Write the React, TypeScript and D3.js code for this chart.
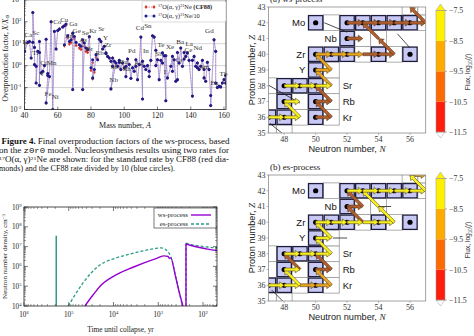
import React from "react";
import * as d3 from "d3";

const SERIF = "'Liberation Serif', 'DejaVu Serif', serif";
const SANS = "'Liberation Sans', 'DejaVu Sans', sans-serif";

// ================= Panel: overproduction factors =================
const massNumbers = [
  40, 42, 43, 44, 45, 45, 46, 46, 47, 47,
  48, 49, 49, 49, 50, 51, 52, 53, 54, 54,
  53, 55, 56, 57, 58, 59, 60, 61, 63, 64,
  65, 64, 66, 67, 68, 69, 69, 70, 71, 73,
  74, 75, 75, 76, 77, 78, 79, 80, 81, 81,
  82, 83, 84, 85, 86, 87, 88, 89, 89, 90,
  91, 92, 93, 93, 94, 92, 95, 96, 97, 97,
  98, 99, 100, 101, 101, 102, 103, 104, 105, 106,
  107, 107, 108, 109, 110, 111, 111, 112, 113, 114,
  115, 115, 116, 117, 118, 119, 119, 120, 121, 122,
  123, 123, 124, 125, 125, 126, 128, 129, 129, 130,
  131, 132, 132, 133, 134, 135, 136, 136, 137, 138,
  139, 141, 141, 142, 143, 144, 144, 145, 146, 147,
  148, 148, 149, 150, 151, 152, 152, 154, 155, 155,
  156, 157, 158, 159, 160, 161, 161,
];
const blueLog10 = [
  0.65, 1.06, 1.1, 0.35, 1.06, 2.42, 0.83, 0.05, -0.03, -0.79,
  0.65, 0.6, -0.9, 1.1, -0.33, -0.26, 0.0, 1.2, -0.36, -0.45,
  -1.7, -0.5, 2.0, -2.0, 1.56, 0.76, 1.6, 1.67, 1.76, 1.82,
  1.9, 0.95, 1.36, 1.1, 1.18, 1.48, -1.09, 1.33, 1.06, 0.95,
  0.88, 1.18, -1.09, 1.03, 0.8, 0.73, 1.33, -0.1, 0.27, -0.56,
  -0.18, 0.5, 0.27, 1.2, 1.1, 0.76, 0.88, 0.58, 0.55, 0.42,
  0.35, 0.2, -0.03, 0.35, 0.2, -1.06, 0.12, -0.03, 0.24, 0.15,
  -0.18, 0.12, -0.1, -0.03, -0.5, 0.3, 0.05, -0.58, -0.1, -0.26,
  0.27, -0.03, -0.64, 0.05, 1.3, -1.52, 0.2, -0.03, -0.18, 0.0,
  -0.26, -0.5, 0.24, 1.36, 1.3, 0.7, 0.0, 0.27, -0.64, 0.24,
  0.12, 0.58, 0.45, -1.6, 0.45, -0.56, -0.03, 0.42, -0.26, 0.27,
  -0.71, -0.64, 0.6, 0.12, 0.8, -0.03, 0.3, 0.6, 0.42, 0.58,
  0.24, -1.39, 0.24, 0.42, -0.03, -0.1, 0.12, -0.18, -0.03, 0.24,
  -0.18, -0.56, -0.71, 0.15, -0.18, -1.36, -1.82, 1.18, 0.65, -0.79,
  -1.0, -0.94, -0.97, -0.79, -0.64, -0.45, -0.79,
];
const redLog10 = [
  0.65, 1.06, 1.1, 0.35, 1.06, 2.42, 0.83, 0.05, -0.03, -0.79,
  0.65, 0.6, -0.9, 1.1, -0.33, -0.26, 0.0, 1.2, -0.36, -0.45,
  -1.7, -0.5, 2.0, -2.0, 1.56, 0.76, 1.6, 1.67, 1.76, 1.82,
  1.85, 0.9, 1.28, 0.98, 1.05, 1.4, -1.09, 1.22, 0.92, 0.8,
  0.74, 1.08, -1.09, 0.88, 0.64, 0.6, 1.28, -0.22, 0.14, -0.6,
  -0.3, 0.38, 0.27, 1.2, 1.1, 0.76, 0.88, 0.58, 0.55, 0.42,
  0.35, 0.2, -0.03, 0.35, 0.2, -1.06, 0.12, -0.03, 0.24, 0.15,
  -0.18, 0.12, -0.1, -0.03, -0.5, 0.3, 0.05, -0.58, -0.1, -0.26,
  0.27, -0.03, -0.64, 0.05, 1.3, -1.52, 0.2, -0.03, -0.18, 0.0,
  -0.26, -0.5, 0.24, 1.36, 1.3, 0.7, 0.0, 0.27, -0.64, 0.24,
  0.12, 0.58, 0.45, -1.6, 0.45, -0.56, -0.03, 0.42, -0.26, 0.27,
  -0.71, -0.64, 0.6, 0.12, 0.8, -0.03, 0.3, 0.6, 0.42, 0.58,
  0.24, -1.39, 0.24, 0.42, -0.03, -0.1, 0.12, -0.18, -0.03, 0.24,
  -0.18, -0.56, -0.71, 0.15, -0.18, -1.36, -1.82, 1.18, 0.65, -0.79,
  -1.0, -0.94, -0.97, -0.79, -0.64, -0.45, -0.79,
];
const elementNames = ["K", "Ca", "Sc", "Ti", "V", "Cr", "Mn", "Fe", "Ni", "Co", "Cu", "Zn", "Ga", "Ge", "As", "Se", "Br", "Kr", "Rb", "Sr", "Y", "Zr", "Nb", "Mo", "Ru", "Rh", "Pd", "Ag", "Cd", "In", "Sn", "Sb", "Te", "I", "Xe", "Cs", "Ba", "La", "Ce", "Nd", "Sm", "Eu", "Gd", "Tb"];
const elementA = [40.3, 42.4, 46.8, 46.4, 50.6, 51.6, 56.3, 54.2, 58.5, 59.7, 63.9, 67, 69.4, 71.4, 75.3, 76.6, 79.1, 81.2, 85.2, 86.2, 88.8, 90.2, 93.6, 94.8, 99.7, 101.5, 104.5, 108.8, 109.4, 113, 114.2, 120.9, 122.1, 124.5, 127.6, 133, 133.6, 139.1, 138.6, 144.2, 148.2, 154.2, 151.2, 159.7];
const elementLog10 = [1.08, 1.42, 1.52, 0.62, -0.34, 0.12, 0.12, -1.25, -1.43, 2.03, 2.08, 1.39, 1.9, 1.62, 1.18, 1.49, 0.76, 1.58, 0.62, 1.67, 1.26, 0.94, -0.61, -0.06, 0.21, -0.11, 0.71, 0.12, 1.76, 0.71, 1.85, 0.57, 0.94, -0.29, 0.89, 0.26, 1.12, 1.0, 0.72, 0.82, -0.06, -0.79, 1.58, -0.34];
const overprodXTicks = [40, 60, 80, 100, 120, 140, 160];
const overprodYExps = [-2, -1, 0, 1, 2, 3];
const overprodGridExps = [-1, 0, 1];

// ================= Panel: neutron density =================
const wsRiseLogT = [4.64, 4.45, 4.3, 4.0, 3.55, 3.02, 2.87, 2.78, 2.75, 2.72, 2.62, 2.52, 2.45, 2.4];
const wsRiseLogN = [4.0, 4.58, 5.0, 5.5, 5.97, 6.42, 6.53, 6.5, 6.4, 6.43, 5.55, 4.6, 4.0, 3.5];
const wsDecayLogT = [2.38, 2.3, 2.2, 2.05, 1.9, 1.75, 1.66];
const wsDecayLogN = [7.14, 7.08, 7.02, 6.94, 6.87, 6.82, 6.79];
const esRiseLogT = [5.08, 4.98, 4.85, 4.68, 4.5, 4.3, 4.0, 3.55, 3.02, 2.94, 2.85, 2.79, 2.72, 2.62, 2.52, 2.46, 2.4];
const esRiseLogN = [3.8, 4.12, 4.6, 5.17, 5.67, 6.08, 6.38, 6.67, 6.92, 6.94, 6.88, 6.75, 6.5, 5.6, 4.6, 4.0, 3.5];
const esDecayLogT = [2.38, 2.3, 2.2, 2.05, 1.9, 1.75, 1.66];
const esDecayLogN = [7.18, 7.12, 7.07, 7.02, 6.98, 6.95, 6.94];
const spikeLogT = 5.28;
const spikeLogN = 7.55;
const timeTickExps = [6, 5, 4, 3, 2];
const densityTickExps = [4, 5, 6, 7, 8, 9];

// ================= Panels: nuclide flow charts =================
const stableN = [47, 48, 50, 48, 50, 48, 49, 50, 50, 50, 51, 52, 54, 56, 52, 50, 52, 53, 54, 55, 56];
const stableZ = [36, 36, 36, 37, 37, 38, 38, 38, 39, 40, 40, 40, 40, 40, 41, 42, 42, 42, 42, 42, 42];
const gridN = [49, 51, 47, 49, 51, 47, 51, 51, 53, 55, 53, 54, 51, 57, 56, 57, 47, 48];
const gridZ = [36, 36, 37, 37, 37, 38, 38, 39, 40, 40, 41, 41, 42, 42, 43, 43, 35, 35];
const elemLabelNames = ["Mo", "Nb", "Zr", "Y", "Sr", "Rb", "Kr"];
const elemLabelZ = [42, 41, 40, 39, 38, 37, 36];
const elemLabelEdgeN = [49.5, 51.5, 49.5, 49.5, 51.5, 51.5, 51.5];
const elemLabelSide = ["left", "left", "left", "left", "right", "right", "right"];
const nTicks = [48, 50, 52, 54, 56];
const zTicks = [35, 36, 37, 38, 39, 40, 41, 42, 43];
const fluxLevels = [-11.5, -10.5, -9.5, -8.5, -7.5];
const fluxColors = ["#ff1e0c", "#ff6a00", "#ffab00", "#ffef00"];

// arrows: [N_from, Z_from, N_to, Z_to, log10 flux]
const wsArrows: number[][] = [
  [50, 36, 51, 36, -10], [51, 36, 50, 37, -10], [50, 37, 51, 37, -10], [51, 37, 50, 38, -10],
  [53, 40, 54, 40, -10], [54, 40, 55, 40, -10], [55, 40, 54, 41, -10], [54, 41, 53, 42, -10],
  [52, 41, 53, 41, -10], [52, 42, 53, 42, -10], [53, 42, 54, 42, -10], [54, 42, 55, 42, -10],
  [55, 42, 56, 42, -10], [56, 42, 57, 42, -10], [57, 42, 56, 43, -10],
  [51, 38, 50, 39, -9], [50, 39, 51, 39, -9], [51, 39, 50, 40, -9], [50, 40, 51, 40, -9],
  [51, 40, 52, 40, -9], [52, 40, 53, 40, -9],
  [47, 36, 48, 36, -8], [48, 36, 49, 36, -8], [49, 36, 48, 37, -8], [48, 37, 49, 37, -8],
  [48, 38, 49, 38, -8], [49, 38, 50, 38, -8], [50, 38, 51, 38, -8],
];
const wsThin: number[][] = [[46.8, 38.15, 49, 36.9], [50.55, 42, 52, 41.4], [55.2, 41.3, 56, 40.4], [47.1, 35.6, 48.1, 34.8]];
const esArrows: number[][] = [
  [49, 37, 48, 38, -10], [50, 37, 51, 37, -10], [51, 37, 50, 38, -10], [52, 41, 53, 41, -10],
  [53, 41, 52, 42, -10], [53, 40, 52, 41, -10],
  [49, 36, 50, 36, -9], [50, 36, 51, 36, -9], [51, 36, 50, 37, -9], [56, 43, 57, 43, -9],
  [47, 36, 48, 36, -8], [48, 36, 49, 36, -8], [49, 36, 48, 37, -8], [48, 37, 49, 37, -8],
  [48, 38, 49, 38, -8], [49, 38, 50, 38, -8], [50, 38, 51, 38, -8], [51, 38, 50, 39, -8],
  [50, 39, 51, 39, -8], [51, 39, 50, 40, -8], [50, 40, 51, 40, -8], [51, 40, 52, 40, -8],
  [52, 40, 53, 40, -8], [53, 40, 54, 40, -8], [54, 40, 55, 40, -8], [55, 40, 54, 41, -8],
  [54, 41, 53, 42, -8], [52, 42, 53, 42, -8], [53, 42, 54, 42, -8], [54, 42, 55, 42, -8],
  [55, 42, 56, 42, -8], [56, 42, 57, 42, -8], [57, 42, 56, 43, -8],
];
const esThin: number[][] = [[47.2, 35.7, 48, 34.9], [51.1, 39, 52, 39], [54, 41, 54.8, 41]];

// ---------------------------------------------------------------
function Pow10({ x, y, e, anchor = "end", size = 7.5 }: any) {
  return (
    <text x={x} y={y} textAnchor={anchor} fontFamily={SERIF} fontSize={size} fill="#222">
      10<tspan dy={-3} fontSize={size * 0.65}>{String(e)}</tspan>
    </text>
  );
}

function OverprodPanel() {
  const x = d3.scaleLinear().domain([40, 161.2]).range([24.5, 226]);
  const y = d3.scaleLog().domain([1e-2, 1e3]).range([109.5, -0.2]);
  const pts = massNumbers.map((a, i) => ({ a, b: Math.pow(10, blueLog10[i]), r: Math.pow(10, redLog10[i]) }));
  const lineB = d3.line<any>().x((d) => x(d.a)).y((d) => y(d.b));
  const lineR = d3.line<any>().x((d) => x(d.a)).y((d) => y(d.r));
  const x0 = 24.5, x1 = 226, y0 = -0.2, y1 = 109.5;
  const minor: number[] = [];
  for (let e = -2; e < 3; e++) for (let m = 2; m < 10; m++) minor.push(m * Math.pow(10, e));
  return (
    <g>
      <defs>
        <clipPath id="cpOver"><rect x={x0} y={y0} width={x1 - x0} height={y1 - y0} /></clipPath>
      </defs>
      {overprodGridExps.map((e) => (
        <line key={e} x1={x0} x2={x1} y1={y(Math.pow(10, e))} y2={y(Math.pow(10, e))} stroke="#b8b8b8" strokeWidth={0.6} />
      ))}
      <g clipPath="url(#cpOver)">
        <path d={lineR(pts) || ""} fill="none" stroke="#e07070" strokeWidth={0.5} strokeDasharray="2,1" />
        {pts.map((p, i) => {
          const cx = x(p.a), cy = y(p.r);
          return <path key={"r" + i} d={`M${cx},${cy - 1.9}L${cx + 1.5},${cy}L${cx},${cy + 1.9}L${cx - 1.5},${cy}Z`} fill="#d8352a" />;
        })}
        <path d={lineB(pts) || ""} fill="none" stroke="#8484e0" strokeWidth={0.6} />
        {pts.map((p, i) => (
          <circle key={"b" + i} cx={x(p.a)} cy={y(p.b)} r={1.55} fill="#1b1b8a" />
        ))}
      </g>
      {elementNames.map((n, i) => (
        <text key={n + i} x={x(elementA[i])} y={y(Math.pow(10, elementLog10[i])) + 2.5} textAnchor="middle" fontFamily={SERIF} fontSize={7} fill="#333">{n}</text>
      ))}
      <rect x={x0} y={y0} width={x1 - x0} height={y1 - y0} fill="none" stroke="#222" strokeWidth={0.8} />
      {overprodYExps.map((e) => (
        <g key={e}>
          <line x1={x0} x2={x0 + 3} y1={y(Math.pow(10, e))} y2={y(Math.pow(10, e))} stroke="#222" strokeWidth={0.6} />
          <Pow10 x={21.5} y={y(Math.pow(10, e)) + 2.6} e={e} />
        </g>
      ))}
      {minor.map((v, i) => (
        <line key={"m" + i} x1={x0} x2={x0 + 1.6} y1={y(v)} y2={y(v)} stroke="#222" strokeWidth={0.4} />
      ))}
      {overprodXTicks.map((t) => (
        <g key={t}>
          <line x1={x(t)} x2={x(t)} y1={y1} y2={y1 - 3} stroke="#222" strokeWidth={0.6} />
          <text x={x(t)} y={117.5} textAnchor="middle" fontFamily={SERIF} fontSize={7.8} fill="#222">{t}</text>
        </g>
      ))}
      <text x={125} y={127.5} textAnchor="middle" fontFamily={SERIF} fontSize={8} fill="#222">
        Mass number, <tspan fontStyle="italic">A</tspan>
      </text>
      <text transform="translate(7.5,58) rotate(-90)" textAnchor="middle" fontFamily={SERIF} fontSize={7.6} fill="#222">
        Overproduction factor, <tspan fontStyle="italic">X</tspan>/<tspan fontStyle="italic">X</tspan><tspan dy={1.5} fontSize={5}>⊙</tspan>
      </text>
      {/* legend */}
      <rect x={142} y={1} width={84} height={21} rx={2} fill="#fff" fillOpacity={0.92} stroke="#c8c8c8" strokeWidth={0.6} />
      <line x1={146} x2={154} y1={7} y2={7} stroke="#d8352a" strokeWidth={0.6} strokeDasharray="1.5,1" />
      {[146, 154].map((cx) => (
        <path key={cx} d={`M${cx},${5.1}L${cx + 1.5},7L${cx},8.9L${cx - 1.5},7Z`} fill="#d8352a" />
      ))}
      <text x={158} y={9.3} fontFamily={SERIF} fontSize={6.3} fill="#222">
        <tspan dy={-2} fontSize={4.2}>17</tspan><tspan dy={2}>O(α, γ)</tspan><tspan dy={-2} fontSize={4.2}>21</tspan><tspan dy={2}>Ne </tspan><tspan fontWeight="bold">(CF88)</tspan>
      </text>
      <line x1={146} x2={154} y1={16} y2={16} stroke="#8484e0" strokeWidth={0.6} strokeDasharray="1.5,1" />
      {[146, 154].map((cx) => (
        <circle key={cx} cx={cx} cy={16} r={1.5} fill="#1b1b8a" />
      ))}
      <text x={158} y={18.3} fontFamily={SERIF} fontSize={6.3} fill="#222">
        <tspan dy={-2} fontSize={4.2}>17</tspan><tspan dy={2}>O(α, γ)</tspan><tspan dy={-2} fontSize={4.2}>21</tspan><tspan dy={2}>Ne/10</tspan>
      </text>
    </g>
  );
}

function Caption() {
  const fs = 7.6;
  return (
    <g fontFamily={SERIF} fontSize={fs} fill="#111">
      <text x={1.5} y={144} textLength={228} lengthAdjust="spacingAndGlyphs">
        <tspan fontWeight="bold">Figure 4.</tspan>{" Final overproduction factors of the ws-process, based"}
      </text>
      <text x={-1} y={153} textLength={230} lengthAdjust="spacingAndGlyphs">
        {"on the "}<tspan fontFamily="'Liberation Mono', 'DejaVu Sans Mono', monospace">z0r0</tspan>{" model. Nucleosynthesis results using two rates for"}
      </text>
      <text x={-1} y={162} textLength={230} lengthAdjust="spacingAndGlyphs">
        <tspan dy={-2.5} fontSize={5}>17</tspan><tspan dy={2.5}>O(α, γ)</tspan><tspan dy={-2.5} fontSize={5}>21</tspan><tspan dy={2.5}>{"Ne are shown: for the standard rate by CF88 (red dia-"}</tspan>
      </text>
      <text x={-1} y={171} textLength={176} lengthAdjust="spacingAndGlyphs">
        monds) and the CF88 rate divided by 10 (blue circles).
      </text>
    </g>
  );
}

function DensityPanel() {
  const x = d3.scaleLinear().domain([6, 1.687]).range([24, 217]);
  const y = d3.scaleLinear().domain([4, 9]).range([306, 207]);
  const x0 = 24, x1 = 217, y0 = 207, y1 = 306;
  const mk = (ts: number[], ns: number[]) => ts.map((t, i) => [x(t), y(ns[i])] as [number, number]);
  const curve = d3.line().curve(d3.curveMonotoneX);
  const xMinor: number[] = [];
  for (let d = 1; d < 6; d++) for (let m = 2; m < 10; m++) {
    const v = d + Math.log10(m);
    if (v > 1.687 && v < 6) xMinor.push(v);
  }
  const yMinor: number[] = [];
  for (let d = 4; d < 9; d++) for (let m = 2; m < 10; m++) yMinor.push(d + Math.log10(m));
  const purple = "#9400d3";
  const teal = "#2a9d86";
  return (
    <g>
      <defs>
        <clipPath id="cpDen"><rect x={x0} y={y0} width={x1 - x0} height={y1 - y0} /></clipPath>
      </defs>
      <g clipPath="url(#cpDen)">
        <line x1={x(spikeLogT)} x2={x(spikeLogT)} y1={y1} y2={y(spikeLogN)} stroke="#138a72" strokeWidth={1.3} />
        <path d={curve(mk(esRiseLogT, esRiseLogN)) || ""} fill="none" stroke={teal} strokeWidth={1.3} strokeDasharray="3,2" />
        <line x1={x(esDecayLogT[0])} x2={x(esDecayLogT[0])} y1={y1} y2={y(esDecayLogN[0])} stroke={teal} strokeWidth={1.3} strokeDasharray="3,2" />
        <path d={curve(mk(esDecayLogT, esDecayLogN)) || ""} fill="none" stroke={teal} strokeWidth={1.3} strokeDasharray="3,2" />
        <path d={curve(mk(wsRiseLogT, wsRiseLogN)) || ""} fill="none" stroke={purple} strokeWidth={1.4} />
        <line x1={x(wsDecayLogT[0])} x2={x(wsDecayLogT[0])} y1={y1} y2={y(wsDecayLogN[0])} stroke={purple} strokeWidth={1.4} />
        <path d={curve(mk(wsDecayLogT, wsDecayLogN)) || ""} fill="none" stroke={purple} strokeWidth={1.4} />
      </g>
      <rect x={x0} y={y0} width={x1 - x0} height={y1 - y0} fill="none" stroke="#222" strokeWidth={0.8} />
      {timeTickExps.map((e) => (
        <g key={e}>
          <line x1={x(e)} x2={x(e)} y1={y1} y2={y1 - 4} stroke="#222" strokeWidth={0.6} />
          <line x1={x(e)} x2={x(e)} y1={y0} y2={y0 + 4} stroke="#222" strokeWidth={0.6} />
          <Pow10 x={x(e)} y={317} e={e} anchor="middle" size={7.2} />
        </g>
      ))}
      {xMinor.map((v, i) => (
        <g key={"xm" + i}>
          <line x1={x(v)} x2={x(v)} y1={y1} y2={y1 - 2} stroke="#222" strokeWidth={0.45} />
          <line x1={x(v)} x2={x(v)} y1={y0} y2={y0 + 2} stroke="#222" strokeWidth={0.45} />
        </g>
      ))}
      {densityTickExps.map((e) => (
        <g key={e}>
          <line x1={x0} x2={x0 + 4} y1={y(e)} y2={y(e)} stroke="#222" strokeWidth={0.6} />
          <line x1={x1} x2={x1 - 4} y1={y(e)} y2={y(e)} stroke="#222" strokeWidth={0.6} />
          <Pow10 x={21.5} y={y(e) + 2.5} e={e} size={7.2} />
        </g>
      ))}
      {yMinor.map((v, i) => (
        <g key={"ym" + i}>
          <line x1={x0} x2={x0 + 2} y1={y(v)} y2={y(v)} stroke="#222" strokeWidth={0.45} />
          <line x1={x1} x2={x1 - 2} y1={y(v)} y2={y(v)} stroke="#222" strokeWidth={0.45} />
        </g>
      ))}
      <text x={120.5} y={332} textAnchor="middle" fontFamily={SERIF} fontSize={7.4} fill="#222">Time until collapse, yr</text>
      <text transform="translate(7,256.5) rotate(-90)" textAnchor="middle" fontFamily={SERIF} fontSize={7} fill="#222">
        Neutron number density, cm<tspan dy={-2.5} fontSize={4.8}>−3</tspan>
      </text>
      {/* legend */}
      <rect x={154} y={208} width={62} height={20} fill="#fff" stroke="#222" strokeWidth={0.6} />
      <text x={188} y={217.4} textAnchor="end" fontFamily={SERIF} fontSize={6.8} fill="#222">ws-process</text>
      <line x1={191} x2={211} y1={215} y2={215} stroke={purple} strokeWidth={1.4} />
      <text x={188} y={226.4} textAnchor="end" fontFamily={SERIF} fontSize={6.8} fill="#222">es-process</text>
      <line x1={191} x2={211} y1={224} y2={224} stroke={teal} strokeWidth={1.3} strokeDasharray="3,2" />
    </g>
  );
}

function arrowPath(x1: number, y1: number, x2: number, y2: number) {
  const w = 1.45, hl = 4.6, hw = 3.4;
  const dx = x2 - x1, dy = y2 - y1, L = Math.hypot(dx, dy);
  const ux = dx / L, uy = dy / L, px = -uy, py = ux;
  const bx = x2 - ux * hl, by = y2 - uy * hl;
  return `M${x1 + px * w},${y1 + py * w}L${bx + px * w},${by + py * w}L${bx + px * hw},${by + py * hw}L${x2},${y2}L${bx - px * hw},${by - py * hw}L${bx - px * w},${by - py * w}L${x1 - px * w},${y1 - py * w}Z`;
}

function NuclidePanel({ oy, title, arrows, thin, id }: any) {
  const x = d3.scaleLinear().domain([47, 57]).range([268.5, 425.7]);
  const y = d3.scaleLinear().domain([35, 43]).range([oy + 133, oy + 7]);
  const u = x(1) - x(0);
  const v = y(0) - y(1);
  const arrowColor = d3.scaleThreshold<number, string>().domain([-10.5, -9.5, -8.5]).range(["#b8301a", "#b25d2e", "#e8a620", "#f6ee1e"]);
  const sorted = [...arrows].sort((a: number[], b: number[]) => a[4] - b[4]);
  const cb = d3.scaleLinear().domain([-7.5, -11.5]).range([oy + 10.5, oy + 132.1]);
  const cbx = 436, cbw = 9;
  const px0 = x(47), px1 = x(57), py0 = y(43), py1 = y(35);
  return (
    <g>
      <defs>
        <clipPath id={id}><rect x={px0} y={py0} width={px1 - px0} height={py1 - py0} /></clipPath>
      </defs>
      <text x={270} y={oy + 1.5} fontFamily={SERIF} fontSize={9} fill="#222">{title}</text>
      <g clipPath={`url(#${id})`}>
        {gridN.map((n, i) => (
          <rect key={"g" + i} x={x(n) - u / 2} y={y(gridZ[i]) - v / 2} width={u} height={v} fill="#fff" stroke="#9a9a9a" strokeWidth={0.8} />
        ))}
        {stableN.map((n, i) => (
          <rect key={"s" + i} x={x(n) - u / 2 + 0.7} y={y(stableZ[i]) - v / 2 + 0.7} width={u - 1.4} height={v - 1.4} fill="#c8c8f4" stroke="#1c1c3a" strokeWidth={1.3} />
        ))}
        {stableN.map((n, i) => (
          <circle key={"d" + i} cx={x(n)} cy={y(stableZ[i])} r={2.6} fill="#000" />
        ))}
        {thin.map((t: number[], i: number) => (
          <line key={"t" + i} x1={x(t[0])} y1={y(t[1])} x2={x(t[2])} y2={y(t[3])} stroke="#222" strokeWidth={0.8} />
        ))}
        {sorted.map((a: number[], i: number) => (
          <path key={"a" + i} d={arrowPath(x(a[0]), y(a[1]), x(a[2]), y(a[3]))} fill={arrowColor(a[4])} stroke="#3e3018" strokeWidth={0.5} strokeLinejoin="round" />
        ))}
      </g>
      <rect x={px0} y={py0} width={px1 - px0} height={py1 - py0} fill="none" stroke="#8a8a8a" strokeWidth={0.8} />
      {elemLabelNames.map((n, i) => (
        <text key={n} x={elemLabelSide[i] === "left" ? x(elemLabelEdgeN[i]) - 2.5 : x(elemLabelEdgeN[i]) + 3.5} y={y(elemLabelZ[i]) + 3.4}
          textAnchor={elemLabelSide[i] === "left" ? "end" : "start"} fontFamily={SANS} fontSize={9.5} fill="#111">{n}</text>
      ))}
      {nTicks.map((t) => (
        <g key={t}>
          <line x1={x(t)} x2={x(t)} y1={py1} y2={py1 + 2} stroke="#8a8a8a" strokeWidth={0.6} />
          <text x={x(t)} y={oy + 142} textAnchor="middle" fontFamily={SERIF} fontSize={8} fill="#333">{t}</text>
        </g>
      ))}
      {zTicks.map((t) => (
        <g key={t}>
          <line x1={px0} x2={px0 - 2} y1={y(t)} y2={y(t)} stroke="#8a8a8a" strokeWidth={0.6} />
          <text x={265.5} y={y(t) + 2.8} textAnchor="end" fontFamily={SERIF} fontSize={8} fill="#333">{t}</text>
        </g>
      ))}
      <text x={347} y={oy + 152} textAnchor="middle" fontFamily={SANS} fontSize={9.2} fill="#222">
        Neutron number, <tspan fontFamily={SERIF} fontStyle="italic">N</tspan>
      </text>
      <text transform={`translate(254.5,${oy + 70}) rotate(-90)`} textAnchor="middle" fontFamily={SANS} fontSize={9.2} fill="#222">
        Proton number, <tspan fontFamily={SERIF} fontStyle="italic">Z</tspan>
      </text>
      {/* colorbar */}
      {fluxColors.map((c, i) => (
        <rect key={c} x={cbx} y={cb(fluxLevels[i + 1])} width={cbw} height={cb(fluxLevels[i]) - cb(fluxLevels[i + 1])} fill={c} />
      ))}
      <path d={`M${cbx},${cb(-7.5)}L${cbx + cbw / 2},${oy + 4}L${cbx + cbw},${cb(-7.5)}Z`} fill={fluxColors[3]} stroke="#999" strokeWidth={0.5} />
      <path d={`M${cbx},${cb(-11.5)}L${cbx + cbw / 2},${oy + 138}L${cbx + cbw},${cb(-11.5)}Z`} fill="#fff" stroke="#999" strokeWidth={0.5} />
      <rect x={cbx} y={cb(-7.5)} width={cbw} height={cb(-11.5) - cb(-7.5)} fill="none" stroke="#999" strokeWidth={0.5} />
      {fluxLevels.map((l) => (
        <g key={l}>
          <line x1={cbx + cbw} x2={cbx + cbw + 2} y1={cb(l)} y2={cb(l)} stroke="#666" strokeWidth={0.5} />
          <text x={449} y={cb(l) + 2.8} fontFamily={SERIF} fontSize={7.8} fill="#333">{"−" + Math.abs(l).toFixed(1)}</text>
        </g>
      ))}
      <text transform={`translate(470,${oy + 72}) rotate(-90)`} textAnchor="middle" fontFamily={SANS} fontSize={6.6} fill="#333">
        Flux, log<tspan dy={1.5} fontSize={4.6}>10</tspan><tspan dy={-1.5}>(</tspan><tspan fontFamily={SERIF} fontStyle="italic">f</tspan>)
      </text>
    </g>
  );
}

export default function App() {
  return (
    <svg width={474} height={336} viewBox="0 0 474 336" style={{ position: "absolute", left: 0, top: 0, background: "#fff" }}>
      <rect x={0} y={0} width={474} height={336} fill="#fff" />
      <OverprodPanel />
      <Caption />
      <DensityPanel />
      <NuclidePanel oy={0} title="(a) ws-process" arrows={wsArrows} thin={wsThin} id="cpNucA" />
      <NuclidePanel oy={168} title="(b) es-process" arrows={esArrows} thin={esThin} id="cpNucB" />
    </svg>
  );
}
